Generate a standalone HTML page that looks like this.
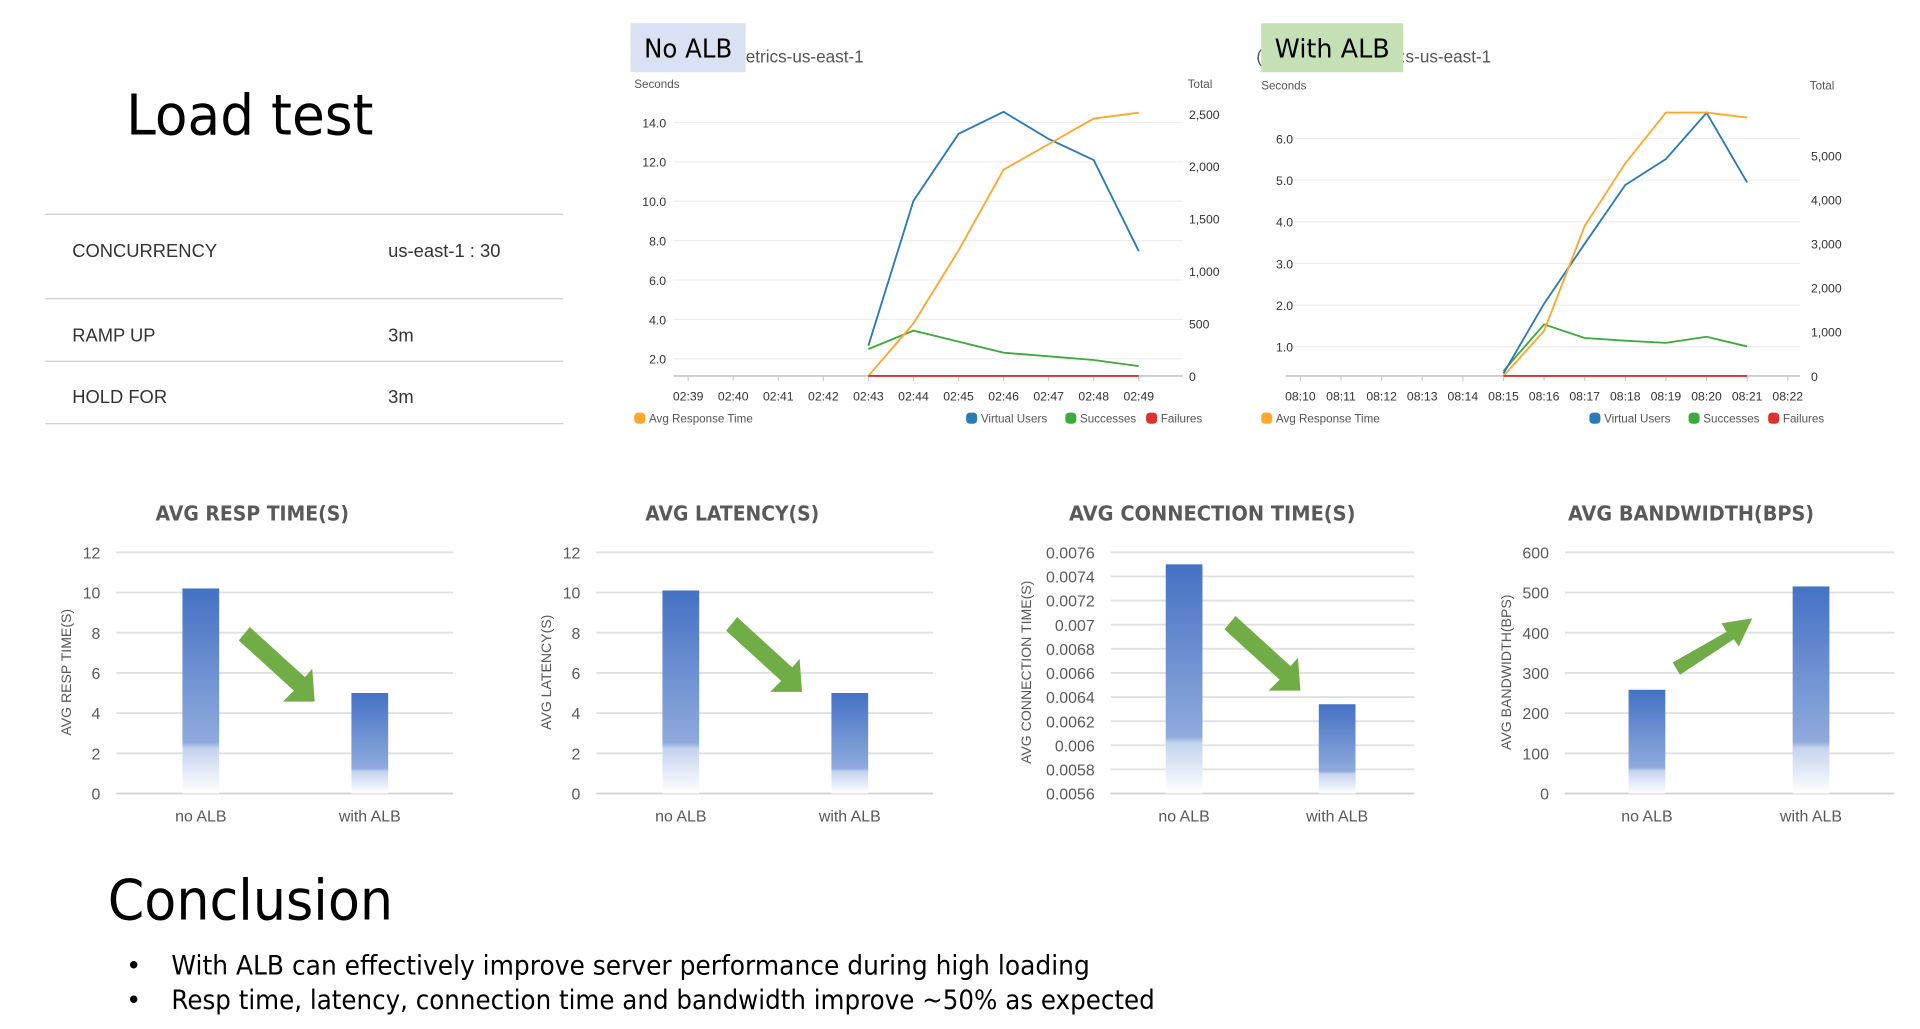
<!DOCTYPE html>
<html><head><meta charset="utf-8">
<style>
html,body{margin:0;padding:0;background:#fff;overflow:hidden}
svg{display:block}
text{font-family:"Liberation Sans",sans-serif}
.dv{font-family:"DejaVu Sans","Liberation Sans",sans-serif}
</style></head>
<body>
<svg id="root" width="1920" height="1029" viewBox="0 0 1568 840.3" preserveAspectRatio="none" xmlns="http://www.w3.org/2000/svg">
<defs>
<linearGradient id="barGrad" x1="0" y1="0" x2="0" y2="1">
<stop offset="0" stop-color="#4472c4"/>
<stop offset="0.75" stop-color="#8faadc"/>
<stop offset="0.78" stop-color="#c5d3ee"/>
<stop offset="1" stop-color="#ffffff"/>
</linearGradient>
</defs>
<text class="dv" x="103" y="110" font-size="46" textLength="202" lengthAdjust="spacingAndGlyphs" fill="#000">Load test</text>
<g>
<line x1="37" y1="175" x2="460" y2="175" stroke="#ccc"/>
<line x1="37" y1="244" x2="460" y2="244" stroke="#ccc"/>
<line x1="37" y1="295" x2="460" y2="295" stroke="#ccc"/>
<line x1="37" y1="346" x2="460" y2="346" stroke="#ccc"/>
<text x="59" y="210" font-size="15" fill="#333">CONCURRENCY</text>
<text x="317" y="210" font-size="15" fill="#333">us-east-1 : 30</text>
<text x="59" y="279" font-size="15" fill="#333">RAMP UP</text>
<text x="317" y="279" font-size="15" fill="#333">3m</text>
<text x="59" y="329" font-size="15" fill="#333">HOLD FOR</text>
<text x="317" y="329" font-size="15" fill="#333">3m</text>
</g>
<g id="lc1"></g>
<g id="lc2"></g>
<g id="bars"></g>
<text class="dv" x="88" y="751" font-size="46" textLength="233" lengthAdjust="spacingAndGlyphs" fill="#000">Conclusion</text>
<text class="dv" x="103" y="796" font-size="21" fill="#000">•</text>
<text class="dv" x="140" y="796" font-size="21.5" textLength="750" lengthAdjust="spacingAndGlyphs" fill="#000">With ALB can effectively improve server performance during high loading</text>
<text class="dv" x="103" y="824" font-size="21" fill="#000">•</text>
<text class="dv" x="140" y="824" font-size="21.5" textLength="803" lengthAdjust="spacingAndGlyphs" fill="#000">Resp time, latency, connection time and bandwidth improve ~50% as expected</text>
</svg>
<script>
const NS="http://www.w3.org/2000/svg";
// ---- Line chart 1 (No ALB) ----
const c1Times=["02:39","02:40","02:41","02:42","02:43","02:44","02:45","02:46","02:47","02:48","02:49"];
const c1LeftTicks=[2,4,6,8,10,12,14];
const c1RightTicks=[0,500,1000,1500,2000,2500];
const c1Resp=[null,null,null,null,1.13,3.8,7.5,11.6,12.9,14.2,14.5];
const c1Users=[null,null,null,null,290,1670,2310,2520,2260,2060,1190];
const c1Succ=[null,null,null,null,257,432,327,222,187,152,93];
const c1Fail=[null,null,null,null,0,0,0,0,0,0,0];
// ---- Line chart 2 (With ALB) ----
const c2Times=["08:10","08:11","08:12","08:13","08:14","08:15","08:16","08:17","08:18","08:19","08:20","08:21","08:22"];
const c2LeftTicks=[1,2,3,4,5,6];
const c2RightTicks=[0,1000,2000,3000,4000,5000];
const c2Resp=[null,null,null,null,null,0.3,1.38,3.9,5.4,6.62,6.62,6.5,null];
const c2Users=[null,null,null,null,null,55,1640,3000,4330,4920,5970,4390,null];
const c2Succ=[null,null,null,null,null,110,1170,860,800,750,890,670,null];
const c2Fail=[null,null,null,null,null,0,0,0,0,0,0,0,null];
// ---- Bar charts ----
const barCategories=["no ALB","with ALB"];
const bar1Values=[10.2,5.0];
const bar2Values=[10.1,5.0];
const bar3Values=[0.0075,0.00634];
const bar4Values=[258,515];
const bar1Ticks=[0,2,4,6,8,10,12];
const bar2Ticks=[0,2,4,6,8,10,12];
const bar3Ticks=[0.0056,0.0058,0.006,0.0062,0.0064,0.0066,0.0068,0.007,0.0072,0.0074,0.0076];
const bar4Ticks=[0,100,200,300,400,500,600];

function mk(tag,attrs,parent,txt){const e=document.createElementNS(NS,tag);for(const k in attrs)e.setAttribute(k,attrs[k]);if(txt!==undefined)e.textContent=txt;parent.appendChild(e);return e;}

function lineChart(g,cfg){
  const xs=i=>cfg.x0+i*(cfg.x1-cfg.x0)/(cfg.times.length-1);
  const yl=v=>cfg.base-(v-cfg.lMin)*(cfg.base-cfg.lTopY)/(cfg.lTop-cfg.lMin);
  const yr=v=>cfg.base-v*(cfg.base-cfg.rTopY)/cfg.rTop;
  if(cfg.pre){
    const pt=mk('text',{x:cfg.bx-4,y:51,'font-size':14,fill:'#555'},g,cfg.pre);
    
    
  }
  const st=mk('text',{x:cfg.subX,y:51,'font-size':14,fill:'#555'},g,cfg.sub);
  
  
  const b=mk('rect',{x:cfg.bx,y:cfg.by,width:cfg.bw,height:40,fill:cfg.bfill},g);
  
  
  const bt=mk('text',{x:cfg.bx+11,y:cfg.by+28,'font-size':21,fill:'#000',class:'dv',textLength:cfg.bw-22,lengthAdjust:'spacingAndGlyphs'},g,cfg.badge);
  
  
  let t=mk('text',{x:cfg.unitX,y:cfg.unitY,'font-size':9.5,fill:'#555'},g,'Seconds');
  
  
  t=mk('text',{x:cfg.rx,y:cfg.unitY,'font-size':9.5,fill:'#555'},g,'Total');
  
  
  cfg.lTicks.forEach(v=>{
    const gl=mk('line',{x1:cfg.x0-12,x2:cfg.gx1,y1:yl(v),y2:yl(v),stroke:'#eee'},g);
    
    
    const tl=mk('text',{x:cfg.lx+20,y:yl(v)+4,'font-size':10,fill:'#333','text-anchor':'end'},g,v.toFixed(1));
    
    
  });
  cfg.rTicks.forEach(v=>{
    const tl=mk('text',{x:cfg.rx+1,y:yr(v)+4,'font-size':10,fill:'#333'},g,v.toLocaleString('en-US'));
    
    
  });
  const ax=mk('line',{x1:cfg.x0-12,x2:cfg.gx1,y1:cfg.base,y2:cfg.base,stroke:'#ccc','stroke-width':1.5},g);
  
  
  cfg.times.forEach((s,i)=>{
    mk('line',{x1:xs(i),x2:xs(i),y1:cfg.base,y2:cfg.base+4,stroke:'#ccc'},g);
    const tl=mk('text',{x:xs(i),y:cfg.base+20,'font-size':10,fill:'#333','text-anchor':'middle'},g,s);
    
    
  });
  const series=[[cfg.succ,'#3bab3b',yr,'successes-line'],[cfg.users,'#2a7ab8',yr,'virtual-users-line'],[cfg.resp,'#ffa62b',yl,'avg-response-line'],[cfg.fail,'#e03030',yr,'failures-line']];
  series.forEach(([arr,col,f,nm])=>{
    const pts=[];arr.forEach((v,i)=>{if(v!==null)pts.push(xs(i).toFixed(1)+','+f(v).toFixed(1));});
    const p=mk('polyline',{points:pts.join(' '),fill:'none',stroke:col,'stroke-width':1.5},g);
    
    
  });
  const leg=[[cfg.legA,'#ffa62b','Avg Response Time'],[cfg.legB,'#2a7ab8','Virtual Users'],[cfg.legB+cfg.legStep1,'#3bab3b','Successes'],[cfg.legB+cfg.legStep2,'#e03030','Failures']];
  leg.forEach(([x,c,s])=>{
    const r=mk('rect',{x:x,y:cfg.legY-8,width:9,height:9,rx:3,fill:c},g);
    
    
    const tl=mk('text',{x:x+12,y:cfg.legY,'font-size':9.5,fill:'#555'},g,s);
    
    
  });
}
lineChart(document.getElementById('lc1'),{times:c1Times,resp:c1Resp,users:c1Users,succ:c1Succ,fail:c1Fail,lTicks:c1LeftTicks,rTicks:c1RightTicks,
  x0:562,x1:930,gx1:966,base:307,lMin:1.13,lTop:14,lTopY:100,rTop:2500,rTopY:93,lx:524,rx:970,unitX:518,unitY:72,
  bx:515,by:19,bw:94,bfill:'#d9e1f2',badge:'No ALB',sub:'etrics-us-east-1',subX:609,legA:518,legB:789,legStep1:81,legStep2:147,legY:345});
lineChart(document.getElementById('lc2'),{times:c2Times,resp:c2Resp,users:c2Users,succ:c2Succ,fail:c2Fail,lTicks:c2LeftTicks,rTicks:c2RightTicks,
  x0:1062,x1:1460,gx1:1470,base:307,lMin:0.3,lTop:6,lTopY:113,rTop:5000,rTopY:127,lx:1036,rx:1478,unitX:1030,unitY:73,
  bx:1030,by:19,bw:116,bfill:'#c5e0b4',badge:'With ALB',pre:'(',sub:':s-us-east-1',subX:1144,legA:1030,legB:1298,legStep1:81,legStep2:146,legY:345});

function barChart(g,cfg){
  const y=v=>648-(v-cfg.ticks[0])*(648-451)/(cfg.ticks[cfg.ticks.length-1]-cfg.ticks[0]);
  const t=mk('text',{x:cfg.tx,y:425,'font-size':16.5,'font-weight':'bold',fill:'#595959','text-anchor':'middle',class:'dv',textLength:cfg.tl,lengthAdjust:'spacingAndGlyphs'},g,cfg.title);
  
  
  cfg.ticks.forEach(v=>{
    const gl=mk('line',{x1:cfg.ax0,x2:cfg.ax1,y1:y(v),y2:y(v),stroke:v===cfg.ticks[0]?'#d0d0d0':'#e0e0e0','stroke-width':1.5},g);
    
    
    const tl=mk('text',{x:cfg.ax0-13,y:y(v)+5,'font-size':13,fill:'#595959','text-anchor':'end'},g,String(v));
    
    
  });
  const yt=mk('text',{x:0,y:0,'font-size':11.5,fill:'#595959','text-anchor':'middle',transform:`translate(${cfg.ytx},549) rotate(-90)`},g,cfg.title);
  
  
  cfg.values.forEach((v,i)=>{
    const cx=cfg.cx[i];
    const r=mk('rect',{x:cx-15,y:y(v),width:30,height:648-y(v),fill:'url(#barGrad)'},g);
    
    
    const tl=mk('text',{x:cx,y:671,'font-size':13,fill:'#595959','text-anchor':'middle'},g,barCategories[i]);
    
    
  });
  const a=cfg.arrow;
  const ar=mk('polygon',{points:cfg.up?
    `${a[0]},${a[1]} ${a[0]+44},${a[1]-25} ${a[0]+40},${a[1]-32} ${a[0]+65},${a[1]-36} ${a[0]+54},${a[1]-13} ${a[0]+50},${a[1]-19} ${a[0]+6},${a[1]+10}`:
    `${a[0]},${a[1]} ${a[0]+45},${a[1]+41} ${a[0]+51},${a[1]+34} ${a[0]+53},${a[1]+61} ${a[0]+27},${a[1]+61} ${a[0]+36},${a[1]+52} ${a[0]-9},${a[1]+11}`,fill:'#70ad47'},g);
  
  
}
const bg=document.getElementById('bars');
barChart(bg,{title:'AVG RESP TIME(S)',tl:158,values:bar1Values,ticks:bar1Ticks,tx:206,ytx:58,ax0:95,ax1:370,cx:[164,302],arrow:[204,512]});
barChart(bg,{title:'AVG LATENCY(S)',tl:142,values:bar2Values,ticks:bar2Ticks,tx:598,ytx:450,ax0:487,ax1:762,cx:[556,694],arrow:[602,504]});
barChart(bg,{title:'AVG CONNECTION TIME(S)',tl:234,values:bar3Values,ticks:bar3Ticks,tx:990,ytx:842,ax0:907,ax1:1155,cx:[967,1092],arrow:[1009,503]});
barChart(bg,{title:'AVG BANDWIDTH(BPS)',tl:201,values:bar4Values,ticks:bar4Ticks,tx:1381,ytx:1234,ax0:1278,ax1:1547,cx:[1345,1479],arrow:[1366,541],up:true});
</script>
</body></html>
